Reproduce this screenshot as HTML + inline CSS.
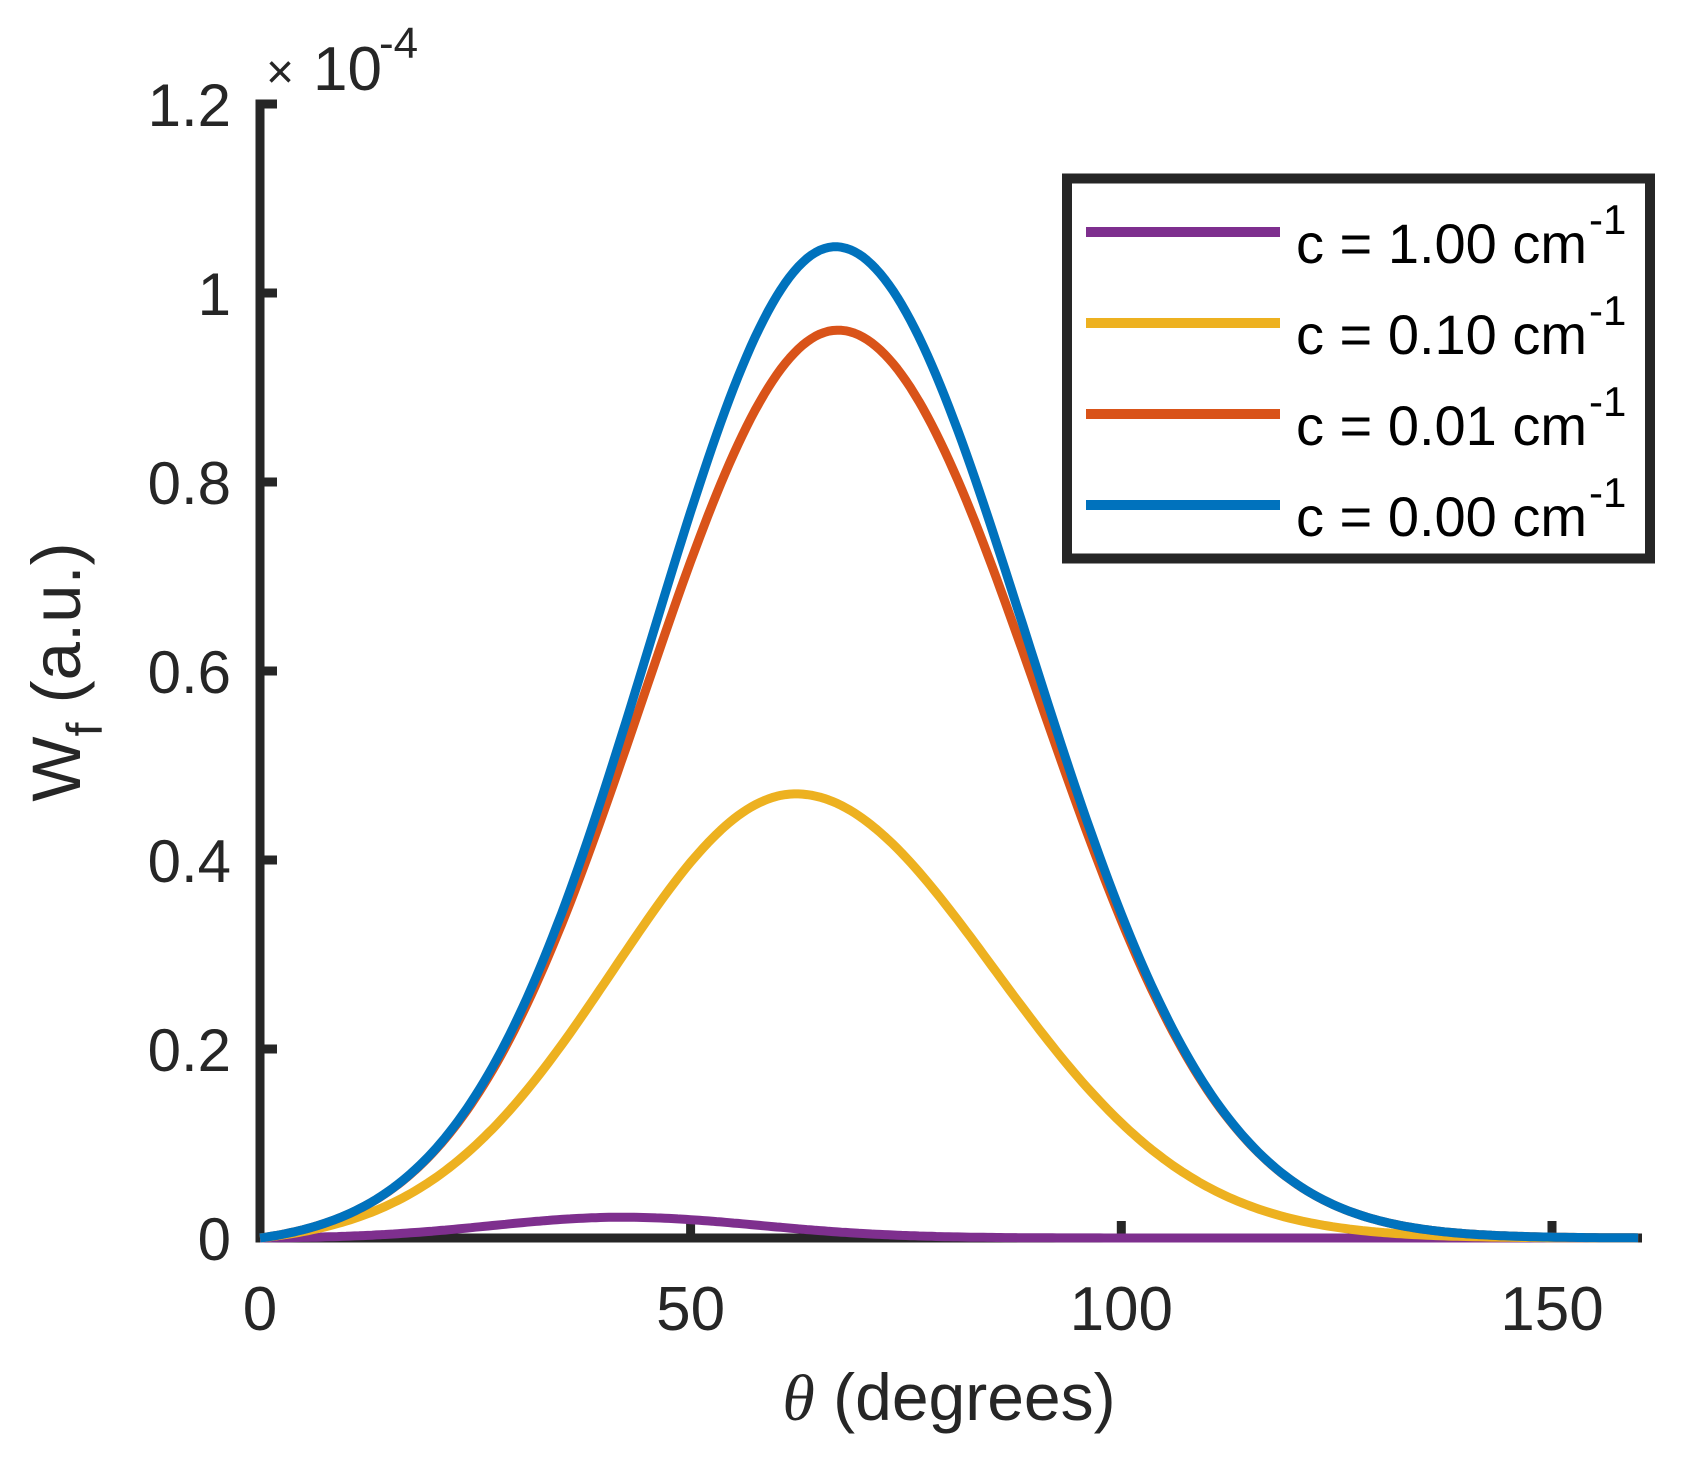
<!DOCTYPE html>
<html><head><meta charset="utf-8">
<style>
html,body{margin:0;padding:0;background:#fff;}
svg{display:block;}
text{font-family:"Liberation Sans",Arial,sans-serif;fill:#262626;}
</style></head>
<body>
<svg id="s" width="1684" height="1459" viewBox="0 0 1684 1459" xmlns="http://www.w3.org/2000/svg">
<rect width="1684" height="1459" fill="#fff"/>
<g stroke="#262626" stroke-width="9" fill="none">
<line x1="260" y1="99.5" x2="260" y2="1242.5"/>
<line x1="255.5" y1="1238" x2="1642" y2="1238"/>
<line x1="260" y1="104" x2="277" y2="104"/>
<line x1="260" y1="293" x2="277" y2="293"/>
<line x1="260" y1="482" x2="277" y2="482"/>
<line x1="260" y1="671" x2="277" y2="671"/>
<line x1="260" y1="860" x2="277" y2="860"/>
<line x1="260" y1="1049" x2="277" y2="1049"/>
<line x1="690.6" y1="1238" x2="690.6" y2="1221"/>
<line x1="1121.3" y1="1238" x2="1121.3" y2="1221"/>
<line x1="1552" y1="1238" x2="1552" y2="1221"/>
</g>
<g id="curves" fill="none" stroke-width="9" stroke-linejoin="round" stroke-linecap="butt"></g>
<g font-size="60" text-anchor="end">
<text x="231" y="126">1.2</text>
<text x="231" y="315">1</text>
<text x="231" y="504">0.8</text>
<text x="231" y="693">0.6</text>
<text x="231" y="882">0.4</text>
<text x="231" y="1071">0.2</text>
<text x="231" y="1260">0</text>
</g>
<g font-size="62" text-anchor="middle">
<text x="260" y="1330">0</text>
<text x="690.6" y="1330">50</text>
<text x="1121.3" y="1330">100</text>
<text x="1552" y="1330">150</text>
</g>
<text x="266" y="88" font-size="48">×</text>
<text x="313" y="90" font-size="62">10</text>
<text x="379" y="58" font-size="44">-4</text>
<text x="949" y="1420" font-size="66" text-anchor="middle"><tspan font-family="'Liberation Serif',serif" font-style="italic">θ</tspan> (degrees)</text>
<g transform="translate(80,672) rotate(-90)">
<text x="0" y="0" font-size="69" text-anchor="middle">W<tspan font-size="50" dy="22">f</tspan><tspan dy="-22"> (a.u.)</tspan></text>
</g>
<rect x="1067" y="178.5" width="583" height="380" fill="#fff" stroke="#262626" stroke-width="10"/>
<g stroke-width="10">
<line x1="1086" y1="232" x2="1280" y2="232" stroke="#7E2F8E"/>
<line x1="1086" y1="323" x2="1280" y2="323" stroke="#EDB120"/>
<line x1="1086" y1="414" x2="1280" y2="414" stroke="#D95319"/>
<line x1="1086" y1="505" x2="1280" y2="505" stroke="#0072BD"/>
</g>
<g font-size="56">
<text x="1296" y="263" style="fill:#000">c = 1.00 cm</text>
<text x="1296" y="354" style="fill:#000">c = 0.10 cm</text>
<text x="1296" y="445" style="fill:#000">c = 0.01 cm</text>
<text x="1296" y="536" style="fill:#000">c = 0.00 cm</text>
</g>
<g font-size="42">
<text x="1589" y="234" style="fill:#000">-1</text>
<text x="1589" y="325" style="fill:#000">-1</text>
<text x="1589" y="416" style="fill:#000">-1</text>
<text x="1589" y="507" style="fill:#000">-1</text>
</g>
</svg>
<script>
(function(){
function ag(A,mu,sl,sr){return function(t){var d=t-mu,s=d<0?sl:sr;return A*Math.exp(-0.5*d*d/(s*s))*(1-Math.exp(-t/6));};}
var blue=ag(1.049,66.8,21.3,22.2);
var yel=ag(0.47,62.2,21.1,23);
var pur=ag(0.022,42,15,16);
function org(t){var r=1-0.085*Math.exp(-Math.pow((t-64)/30,2));return blue(t)*r;}
function path(f){
 var s='';for(var t=0;t<=160.001;t+=0.5){var x=260+8.613*t,y=1238-945*f(t);s+=(t===0?'M':'L')+x.toFixed(1)+' '+y.toFixed(1);}return s;
}
var g=document.getElementById('curves'),ns='http://www.w3.org/2000/svg';
[[pur,'#7E2F8E'],[yel,'#EDB120'],[org,'#D95319'],[blue,'#0072BD']].forEach(function(c){
 var p=document.createElementNS(ns,'path');p.setAttribute('d',path(c[0]));p.setAttribute('stroke',c[1]);g.appendChild(p);
});
})();
</script>
</body></html>
